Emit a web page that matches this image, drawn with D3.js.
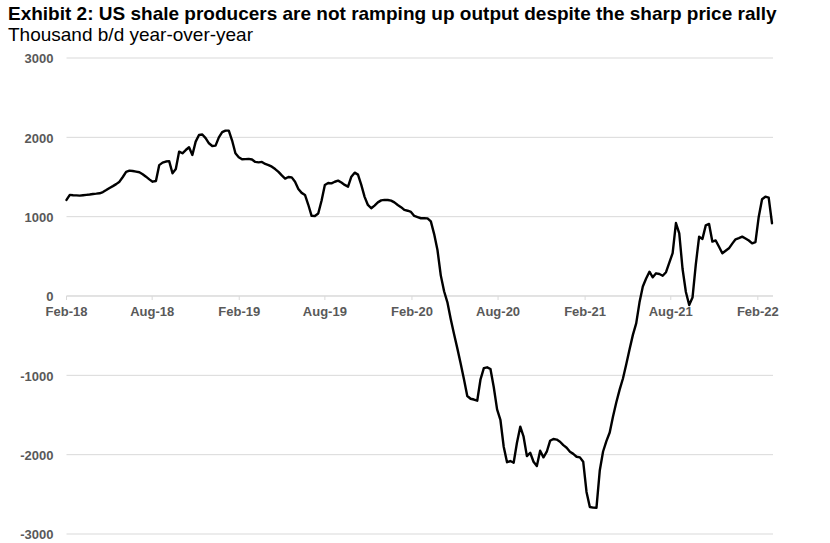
<!DOCTYPE html>
<html>
<head>
<meta charset="utf-8">
<script src="https://cdn.jsdelivr.net/npm/d3@7/dist/d3.min.js"></script>
<style>
  html, body { margin: 0; padding: 0; background: #fff; }
  svg { display: block; }
</style>
</head>
<body>
<svg id="chart" width="830" height="543"></svg>
<script>
// ---- Data (weekly, thousand b/d y/y) ----
const startDate = "2018-02-02";
const values = [
  1211, 1274, 1270, 1268, 1265, 1270, 1275, 1280, 1286, 1290,
  1295, 1310, 1335, 1362, 1385, 1410, 1441, 1500, 1565, 1580,
  1575, 1568, 1560, 1535, 1504, 1470, 1441, 1450, 1650, 1681,
  1695, 1700, 1547, 1600, 1820, 1799, 1840, 1875, 1778, 1946,
  2030, 2035, 1990, 1925, 1891, 1895, 2000, 2065, 2085, 2085,
  1960, 1800, 1750, 1724, 1725, 1728, 1720, 1690, 1685, 1690,
  1665, 1650, 1630, 1600, 1565, 1520, 1480, 1500, 1495, 1440,
  1350, 1300, 1274, 1150, 1010, 1009, 1040, 1200, 1400, 1425,
  1420, 1440, 1454, 1430, 1400, 1378, 1504, 1555, 1530, 1400,
  1250, 1148, 1106, 1140, 1180, 1205, 1211, 1210, 1202, 1180,
  1148, 1120, 1085, 1075, 1060, 1009, 995, 980, 980, 978,
  940, 780, 580, 260, 60, -80, -290, -480, -660, -850,
  -1050, -1260, -1295, -1305, -1320, -1050, -910, -899, -920, -1150,
  -1430, -1560, -1900, -2095, -2080, -2102, -1850, -1648, -1774, -2018,
  -1976, -2089, -2144, -1951, -2034, -1963, -1825, -1803, -1810, -1837,
  -1880, -1913, -1963, -1990, -2026, -2034, -2089, -2470, -2660, -2668,
  -2670, -2200, -1960, -1830, -1720, -1520, -1340, -1180, -1040, -860,
  -670, -490, -345, -80, 120, 220, 306, 236, 286, 277,
  255, 300, 420, 540, 920, 790, 340, 50, -113, -20,
  400, 748, 720, 890, 908, 685, 700, 620, 538, 570,
  601, 660, 715, 730, 748, 725, 700, 664, 680, 1000,
  1220, 1252, 1240, 917
];
const xTickDates = ["2018-02-01","2018-08-01","2019-02-01","2019-08-01","2020-02-01","2020-08-01","2021-02-01","2021-08-01","2022-02-01"];
const xTickLabels = ["Feb-18","Aug-18","Feb-19","Aug-19","Feb-20","Aug-20","Feb-21","Aug-21","Feb-22"];
const yTicks = [3000, 2000, 1000, 0, -1000, -2000, -3000];

const titleText = "Exhibit 2: US shale producers are not ramping up output despite the sharp price rally";
const subtitleText = "Thousand b/d year-over-year";

// ---- Layout ----
const parse = d3.utcParse("%Y-%m-%d");
const t0 = parse(startDate);
const dates = values.map((_, i) => d3.utcDay.offset(t0, 7 * i));
const data = values.map((v, i) => ({ date: dates[i], value: v }));

const plotLeft = 66.5, plotRight = 772, plotTop = 58, plotBottom = 534;

const x = d3.scaleUtc()
  .domain([dates[0], dates[dates.length - 1]])
  .range([plotLeft, plotRight]);
const y = d3.scaleLinear()
  .domain([-3000, 3000])
  .range([plotBottom, plotTop]);

const svg = d3.select("#chart");
const font = "'Liberation Sans', Arial, Helvetica, sans-serif";

// Title and subtitle
svg.append("text")
  .attr("x", 8).attr("y", 20)
  .attr("font-family", font).attr("font-weight", "bold")
  .attr("font-size", 19).attr("fill", "#000")
  .text(titleText);
svg.append("text")
  .attr("x", 8).attr("y", 41)
  .attr("font-family", font)
  .attr("font-size", 19).attr("fill", "#000")
  .text(subtitleText);

// Gridlines
svg.append("g")
  .selectAll("line")
  .data(yTicks)
  .join("line")
  .attr("x1", plotLeft).attr("x2", plotRight + 1)
  .attr("y1", d => y(d)).attr("y2", d => y(d))
  .attr("stroke", "#d9d9d9").attr("stroke-width", 1);

// Y axis labels
const yAxis = d3.axisLeft(y).tickValues(yTicks).tickSize(0).tickPadding(0).tickFormat(d => String(d));
const gy = svg.append("g").attr("transform", `translate(${plotLeft - 13},0)`).call(yAxis);
gy.select(".domain").remove();
gy.selectAll("text")
  .attr("font-family", font).attr("font-weight", "bold")
  .attr("font-size", 13).attr("fill", "#595959")
  .attr("dy", "0.36em");

// X axis at zero
const xAxis = d3.axisBottom(x)
  .tickValues(xTickDates.map(parse))
  .tickFormat((d, i) => xTickLabels[i])
  .tickSize(4).tickPadding(7).tickSizeOuter(0);
const gx = svg.append("g").attr("transform", `translate(0,${y(0)})`).call(xAxis);
gx.select(".domain").attr("stroke", "#d9d9d9").attr("d", `M${plotLeft},0H${plotRight + 1}`);
gx.selectAll(".tick line").attr("stroke", "#d9d9d9");
gx.selectAll("text")
  .attr("font-family", font).attr("font-weight", "bold")
  .attr("font-size", 13).attr("fill", "#595959");

// Line
const line = d3.line()
  .x(d => x(d.date))
  .y(d => y(d.value));
svg.append("path")
  .datum(data)
  .attr("fill", "none")
  .attr("stroke", "#000")
  .attr("stroke-width", 2.4)
  .attr("stroke-linejoin", "round")
  .attr("stroke-linecap", "round")
  .attr("d", line);
</script>
</body>
</html>
